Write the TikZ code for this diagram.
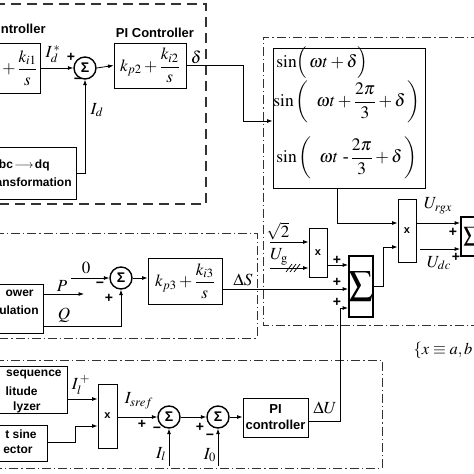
\documentclass[tikz,border=0pt]{standalone}
\usepackage{amsmath}
\usepackage{mathptmx}
\usepackage{fontspec}
\setmainfont{Liberation Serif}
\newfontfamily\sfb{Liberation Sans}
\usetikzlibrary{arrows.meta}
\begin{document}
\begin{tikzpicture}[x=1pt,y=-1pt,line width=0.8pt,
  arr/.style={-{Latex[length=5.5pt,width=4pt]}},
  blk/.style={draw,line width=0.9pt,inner sep=0pt},
  sumc/.style={draw,circle,line width=1.4pt,minimum size=22pt,inner sep=0pt,font=\sfb\bfseries\fontsize{14}{14}\selectfont},
  sigbox/.style={draw,line width=1.8pt,inner sep=0pt},
  lbl/.style={font=\sfb\bfseries\fontsize{12}{15}\selectfont,inner sep=0pt},
  ttl/.style={font=\sfb\bfseries\fontsize{13}{16}\selectfont,inner sep=0pt},
  sgn/.style={font=\sfb\bfseries\fontsize{14}{14}\selectfont,inner sep=0pt},
  mth/.style={font=\fontsize{17}{19}\selectfont,inner sep=0pt},
  sinf/.style={font=\fontsize{17.5}{19}\selectfont,inner sep=0pt,anchor=west},
  frdash/.style={draw=black!80,line width=1.3pt,dash pattern=on 10pt off 6pt},
  frdot/.style={draw=black!80,line width=1pt,dash pattern=on 9pt off 3pt on 1.2pt off 3pt},
]
\useasboundingbox (0,0) rectangle (474,474);
\clip (0,0) rectangle (474,474);

% ---------- frames
\draw[frdash] (-5,4) -- (206,4) -- (206,204) -- (-5,204);
\draw[frdot] (-5,233) -- (257,233) -- (257,338) -- (-5,338);
\draw[frdot] (480,37) -- (263,37) -- (263,325) -- (480,325);
\draw[frdot] (-5,360) -- (382,360) -- (382,468) -- (-5,468);

% ---------- top section
\node[ttl,anchor=east] (t1) at (46,29) {ntroller};
\node[blk,minimum width=80pt,minimum height=50pt] (b1) at (0,68) {};
\node[mth] (b1t) at (20,68) {$+\,\dfrac{k_{i1}}{s}$};
\node[sumc] (s1) at (85,68) {Σ};
\node[sgn] (s1p) at (71,57) {+};
\node[sgn] (s1m) at (78,81) {−};
\node[mth] (lid) at (53,54) {$I_d^{\,*}$};
\node[blk,minimum width=112pt,minimum height=52pt] (abc) at (20,173) {};
\node[lbl,anchor=east] (abc1) at (50,165) {bc$\,\boldsymbol{\longrightarrow}\,$dq};
\node[lbl,anchor=east] (abc2) at (72,182) {ansformation};
\node[mth] (lid2) at (97,110) {$I_d$};
\node[ttl] (pi2t) at (155,33) {PI Controller};
\node[blk,minimum width=72pt,minimum height=45pt] (pi2) at (150,65.5) {};
\node[mth] (pi2c) at (pi2) {$k_{p2}+\dfrac{k_{i2}}{s}$};
\node[mth] (ldel) at (196,57) {$\delta$};

\draw[arr] (b1.east) -- (s1.west);
\draw[arr] (abc.east) -| (s1.south);
\draw[arr] (s1.east) -- (pi2.west);

% ---------- sin box
\node[blk,minimum width=152pt,minimum height=140pt] (sinb) at (349,118) {};
\node[sinf] (sin1) at (276,63) {$\sin\Bigl(\,\omega t+\delta\Bigr)$};
\node[sinf] (sin2) at (273,102) {$\sin\left(\;\;\omega t+\dfrac{2\pi}{3}+\delta\,\right)$};
\node[sinf] (sin3) at (276,158) {$\sin\left(\;\;\omega t\ \mbox{-}\,\dfrac{2\pi}{3}+\delta\,\right)$};
\draw[arr] (pi2.east) -- ++(57,0) |- (sinb.west |- 0,121);

% ---------- multipliers / sums right
\node[blk,minimum width=18pt,minimum height=63pt,font=\sfb\bfseries\fontsize{11}{11}\selectfont] (m2) at (407,230.5) {x};
\node[sigbox,minimum width=24pt,minimum height=39pt] (s3) at (473,236.5) {};
\node[font=\fontsize{15}{15}\selectfont] (s3t) at (471,236.5) {$\displaystyle\sum$};
\node[blk,minimum width=18pt,minimum height=49pt,font=\sfb\bfseries\fontsize{11}{11}\selectfont] (m1) at (318,252.5) {x};
\node[sigbox,minimum width=24pt,minimum height=61pt] (s2) at (361,286.5) {};
\node[font=\fontsize{24}{24}\selectfont] (s2t) at (s2) {$\displaystyle\sum$};

\coordinate (sq2) at (270,242);
\coordinate (ug) at (270,268);
\coordinate (udc) at (420,249);
\node[mth] (lsq) at (278,231) {$\sqrt{2}$};
\node[mth] (lug) at (279,257) {$U_{\mathrm{g}}$};
\node[mth] (lurgx) at (438,206) {$U_{rgx}$};
\node[mth] (ludc) at (439,263) {$U_{dc}$};

\draw[arr] (sq2) -- (m1.west |- sq2);
\draw[arr] (ug) -- (m1.west |- ug);
\foreach \xx in {289,293,297} \draw[line width=0.7pt] (\xx-3,272) -- (\xx+3,264);
\draw[arr] (m1.east |- 0,265) -- (s2.west |- 0,265);
\draw[arr] ([xshift=-12pt]sinb.south) |- (m2.west |- 0,223);
\draw[arr] (s2.east) -- (383,286.5) |- (m2.west |- 0,247);
\draw[arr] (m2.east |- 0,223) -- (s3.west |- 0,223);
\draw[arr] (udc) -- (s3.west |- udc);

\node[sgn] (p21) at (337,260) {+};
\node[sgn] (p22) at (337,282) {+};
\node[sgn] (p23) at (337,302) {+};
\node[sgn] (p31) at (453,232) {+};
\node[sgn] (p32) at (456,257) {+};

% ---------- middle section
\node[blk,minimum width=106pt,minimum height=49pt] (pw) at (-10,308.5) {};
\node[lbl,anchor=east] (pw1) at (34,293) {ower};
\node[lbl,anchor=east] (pw2) at (39,310) {ulation};
\node[sumc] (s4) at (121,278) {Σ};
\node[blk,minimum width=74pt,minimum height=46pt] (pi3) at (185,281) {};
\node[mth] (pi3c) at (pi3) {$k_{p3}+\dfrac{k_{i3}}{s}$};
\coordinate (pend) at (84,294);
\coordinate (zst) at (71,278);
\node[mth] (lP) at (62,286) {$P$};
\node[mth] (l0) at (86,268) {$0$};
\node[mth] (lQ) at (64,315) {$Q$};
\node[mth] (lds) at (243,280) {$\Delta S$};
\node[sgn] (s4m) at (100,285) {−};
\node[sgn] (s4p) at (109,298) {+};
\draw[arr] (pw.east |- pend) -- (pend);
\draw[arr] (zst) -- (s4.west);
\draw[arr] (pw.east |- 0,326) -| (s4.south);
\draw[arr] (s4.east) -- (pi3.west |- s4);
\draw[arr] (pi3.east |- 0,289) -- (s2.west |- 0,289);

\node[font=\fontsize{16.5}{16.5}\selectfont,anchor=west] (xeq) at (410,350) {$\{x\equiv a,b$};

% ---------- bottom section
\node[blk,minimum width=100pt,minimum height=47pt] (sq) at (17,389.5) {};
\node[lbl,anchor=east] (sq1) at (62,375) {sequence};
\node[lbl,anchor=east] (sq2t) at (38,391) {litude};
\node[lbl,anchor=east] (sq3) at (41,407) {lyzer};
\node[blk,minimum width=80pt,minimum height=36pt] (sn) at (7,443) {};
\node[lbl,anchor=east] (sn1) at (37,434) {t sine};
\node[lbl,anchor=east] (sn2) at (33,450) {ector};
\node[blk,minimum width=19pt,minimum height=64pt,font=\sfb\bfseries\fontsize{11}{11}\selectfont] (m3) at (107.5,416) {x};
\node[sumc] (s5) at (169,417) {Σ};
\node[sumc] (s6) at (218,417) {Σ};
\node[blk,minimum width=65pt,minimum height=39pt,align=center,ttl] (pi4) at (275.5,417.5) {PI\\[0pt]controller};
\coordinate (il) at (169,466);
\coordinate (i0) at (218,466);

\node[mth] (lilp) at (81,385) {$I_l^{\,+}$};
\node[mth] (lis) at (139,401) {$I_{sref}$};
\node[mth] (lil) at (161,454) {$I_l$};
\node[mth] (li0) at (210,455) {$I_0$};
\node[mth] (ldu) at (325,408) {$\Delta U$};
\node[sgn] (s5p) at (142,424) {+};
\node[sgn] (s5m) at (157,430) {−};
\node[sgn] (s6p) at (200,427) {+};
\node[sgn] (s6m) at (210,437) {−};

\draw[arr] (sq.east |- 0,399) -- (m3.west |- 0,399);
\draw[arr] (sn.east |- 0,442) -- (75,442) |- (m3.west |- 0,426);
\draw[arr] (m3.east |- s5) -- (s5.west);
\draw[arr] (il) -- (s5.south);
\draw[arr] (s5.east) -- (s6.west);
\draw[arr] (i0) -- (s6.south);
\draw[arr] (s6.east) -- (pi4.west |- s6);
\draw[arr] (pi4.east |- 0,421) -- (340,421) |- (s2.west |- 0,308);
\end{tikzpicture}
\end{document}
